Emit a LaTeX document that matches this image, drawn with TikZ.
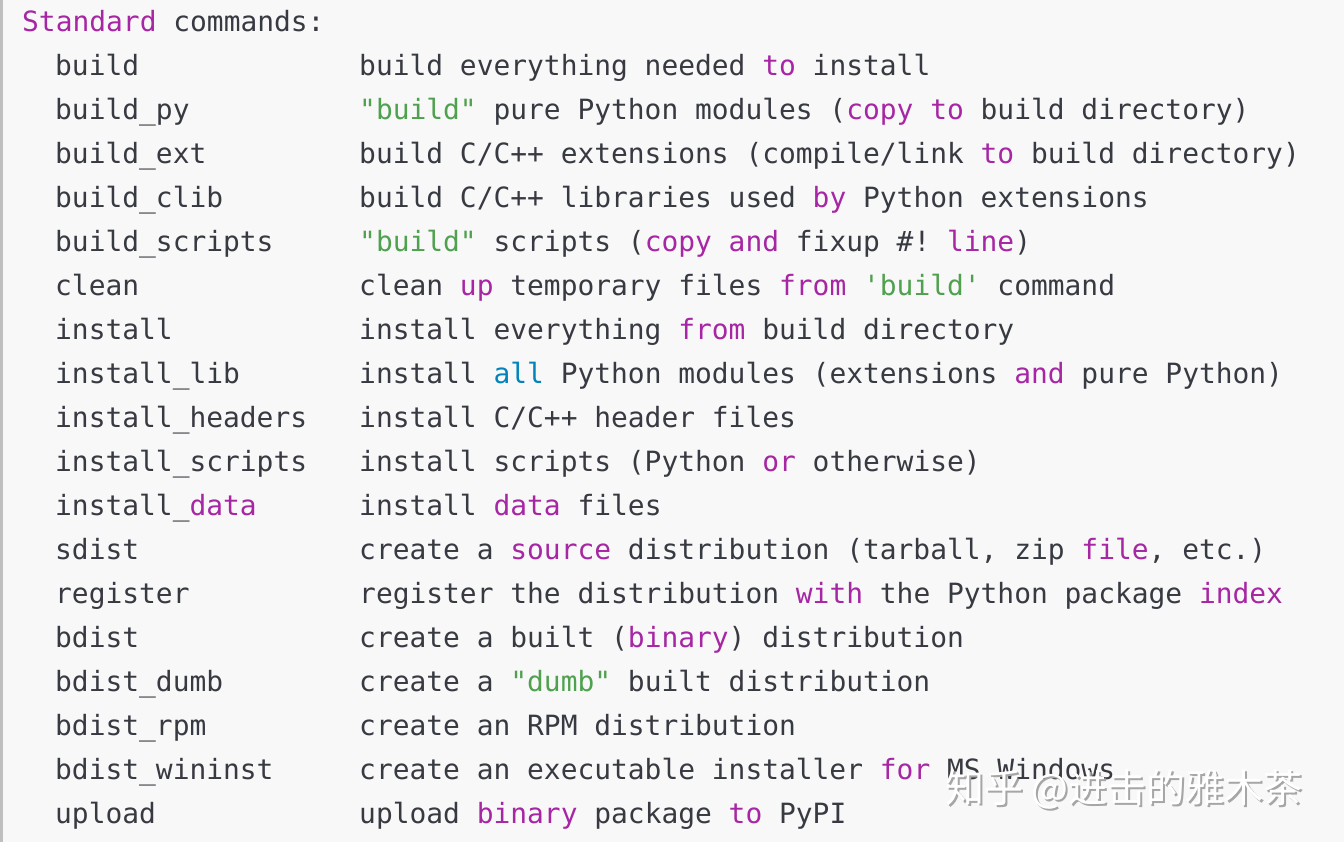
\documentclass[tikz,border=0pt]{standalone}
\usepackage{fontspec}
\newfontfamily\mono{DejaVu Sans Mono}
\newfontfamily\cjk{Noto Sans CJK SC}
\definecolor{kw}{HTML}{A626A4}
\definecolor{st}{HTML}{50A14F}
\definecolor{bl}{HTML}{0184BC}
\definecolor{tx}{HTML}{383A42}
\definecolor{bg}{HTML}{F8F8F8}
\newcommand{\K}[1]{\textcolor{kw}{#1}}
\newcommand{\St}[1]{\textcolor{st}{#1}}
\newcommand{\B}[1]{\textcolor{bl}{#1}}
\frenchspacing
\begin{document}
\begin{tikzpicture}[x=1pt,y=1pt,
  ln/.style={anchor=base west,inner sep=0pt,font=\mono\fontsize{27.9}{30}\selectfont\frenchspacing,text=tx}]
\useasboundingbox (0,0) rectangle (1344,-842);
\fill[bg] (0,0) rectangle (1344,-842);
\fill[black!25] (0,0) rectangle (3,-842);
\node[ln] (h) at (22,-31.5) {\K{Standard} commands:};
\foreach \i/\c in {1/build,2/build\_py,3/build\_ext,4/build\_clib,5/build\_scripts,6/clean,7/install,8/install\_lib,9/install\_headers,10/install\_scripts,11/install\_\K{data},12/sdist,13/register,14/bdist,15/bdist\_dumb,16/bdist\_rpm,17/bdist\_wininst,18/upload}
  \node[ln] (c\i) at (55,{-31.5-44*\i}) {\c};
\foreach \i/\d in {
 1/{build everything needed \K{to} install},
 2/{\St{"build"} pure Python modules (\K{copy} \K{to} build directory)},
 3/{build C/C++ extensions (compile/link \K{to} build directory)},
 4/{build C/C++ libraries used \K{by} Python extensions},
 5/{\St{"build"} scripts (\K{copy} \K{and} fixup \#! \K{line})},
 6/{clean \K{up} temporary files \K{from} \St{'build'} command},
 7/{install everything \K{from} build directory},
 8/{install \B{all} Python modules (extensions \K{and} pure Python)},
 9/{install C/C++ header files},
 10/{install scripts (Python \K{or} otherwise)},
 11/{install \K{data} files},
 12/{create a \K{source} distribution (tarball, zip \K{file}, etc.)},
 13/{register the distribution \K{with} the Python package \K{index}},
 14/{create a built (\K{binary}) distribution},
 15/{create a \St{"dumb"} built distribution},
 16/{create an RPM distribution},
 17/{create an executable installer \K{for} MS Windows},
 18/{upload \K{binary} package \K{to} PyPI}}
  \node[ln] (d\i) at (359,{-31.5-44*\i}) {\d};
\node[anchor=west,inner sep=0pt,font=\cjk\fontsize{39}{41}\selectfont,text=black!35] at (947,-791) {知乎 @进击的雅木茶};
\node[anchor=west,inner sep=0pt,font=\cjk\fontsize{39}{41}\selectfont,text=white] (wm) at (945,-789) {知乎 @进击的雅木茶};
\end{tikzpicture}
\end{document}
